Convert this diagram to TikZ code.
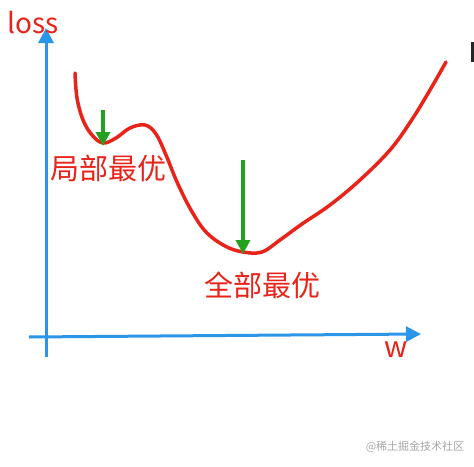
\documentclass[tikz,border=0pt]{standalone}
\usepackage{fontspec}
\setmainfont{Noto Sans CJK SC}
\usetikzlibrary{arrows.meta}
\definecolor{cred}{HTML}{E8231A}
\definecolor{cblue}{HTML}{2B95E8}
\definecolor{cgreen}{HTML}{22A020}
\begin{document}
\begin{tikzpicture}[x=1pt,y=-1pt,
  axis/.style={draw=cblue,line width=3pt,-{Triangle[width=15pt,length=15pt]}},
  garrow/.style={draw=cgreen,line width=3.5pt,-{Triangle[width=14pt,length=14pt]}},
  lbl/.style={text=cred,inner sep=0pt,anchor=center}]
\useasboundingbox (0,0) rectangle (474,466);
\fill[white] (0,0) rectangle (474,466);
% axes
\coordinate (yb) at (46,357);
\coordinate (yt) at (46,28);
\coordinate (xl) at (29,337);
\coordinate (xr) at (421,334);
\draw[axis] (yb) -- (yt);
\draw[axis] (xl) -- (xr);
% curve
\draw[cred,line width=3.5pt,line cap=round,line join=round] plot[smooth,tension=0.6] coordinates {
 (75,73) (77,98) (83,120) (92,135) (103,143) (116,138) (130,128) (145,125)
 (156,134) (166,155) (177,182) (191,210) (206,232) (225,246) (243,252)
 (262,252) (280,240) (302,224) (330,205) (360,180) (390,150) (411,121) (430,90) (446,62)};
% green arrows
\coordinate (g1s) at (103,110);
\coordinate (g1e) at (103,146);
\coordinate (g2s) at (243,160);
\coordinate (g2e) at (243,254);
\draw[garrow] (g1s) -- (g1e);
\draw[garrow] (g2s) -- (g2e);
% labels
\node[lbl,font=\fontsize{28}{28}\selectfont] (loss) at (33,23) {loss};
\node[lbl,font=\fontsize{29}{29}\selectfont] (w) at (396,350) {w};
\node[lbl,font=\fontsize{29}{29}\selectfont] (local) at (108,168) {局部最优};
\node[lbl,font=\fontsize{29}{29}\selectfont] (global) at (262,285) {全部最优};
\node[text=black!35,inner sep=0pt,font=\fontsize{11}{11}\selectfont] (wm) at (415,447) {@稀土掘金技术社区};
\fill[black!85] (471,42) rectangle (474,62);
\end{tikzpicture}
\end{document}
